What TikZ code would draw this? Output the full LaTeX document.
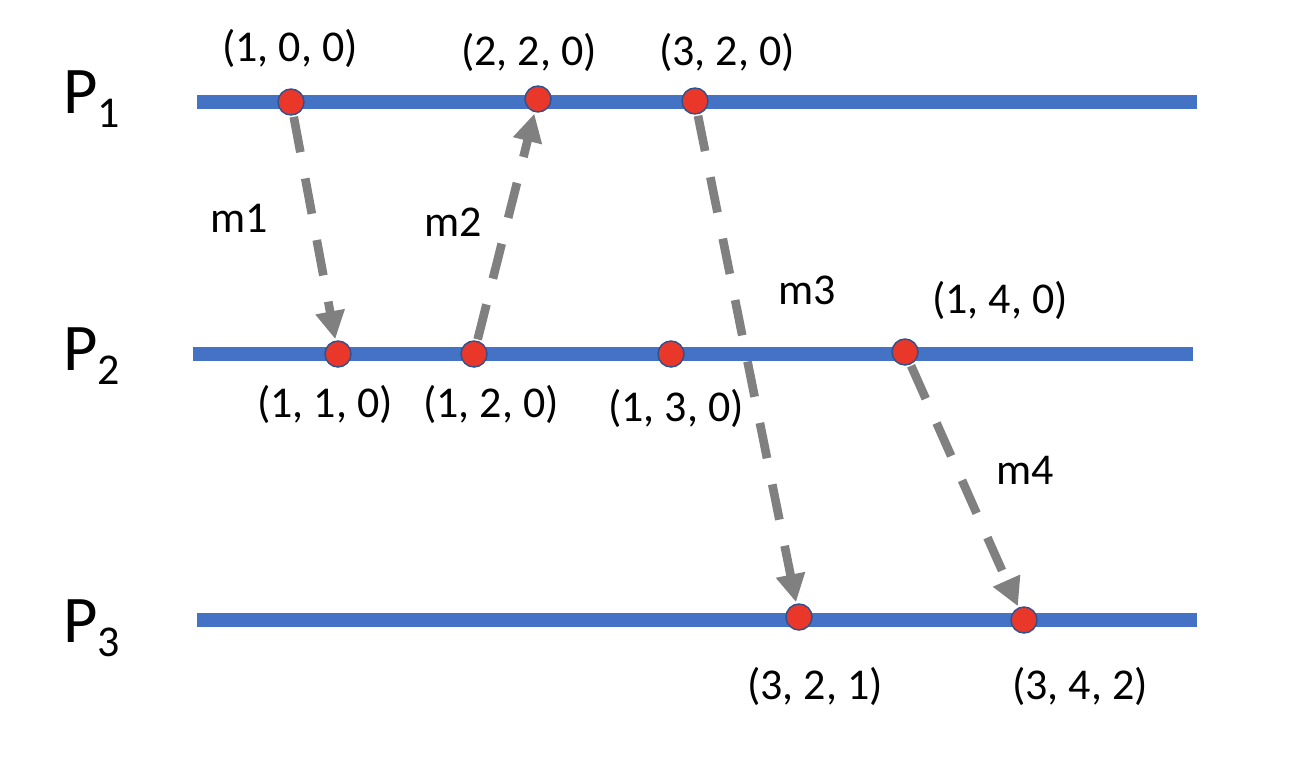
\documentclass[tikz,border=0pt]{standalone}
\usepackage{fontspec}
\setmainfont{Carlito}
\usetikzlibrary{arrows.meta}
\definecolor{lineblue}{RGB}{68,114,196}
\definecolor{dotred}{RGB}{233,55,42}
\definecolor{dotedge}{RGB}{47,82,143}
\definecolor{msggray}{RGB}{128,128,128}
\tikzset{
  procline/.style={draw=lineblue, line width=10.5pt},
  ev/.style={circle, fill=dotred, draw=dotedge, line width=1.1pt, minimum size=19.5pt, inner sep=0pt},
  msg/.style={draw=msggray, line width=6.5pt, dash pattern=on 27pt off 20pt,
    -{Triangle[length=21pt,width=21pt]}, shorten <=1pt, shorten >=1pt},
  lbl/.style={font=\fontsize{33}{38}\selectfont, inner sep=0pt},
  plbl/.style={font=\fontsize{50}{56}\selectfont, inner sep=0pt, anchor=base west},
}
\newcommand{\psub}[1]{{\fontsize{33}{38}\selectfont\raisebox{-11pt}{#1}}}
\begin{document}
\begin{tikzpicture}[x=0.75pt, y=-0.75pt]
\useasboundingbox (0,0) rectangle (1302,778);
% process lines
\coordinate (p1s) at (197,102); \coordinate (p1e) at (1197,102);
\coordinate (p2s) at (193,354); \coordinate (p2e) at (1193,354);
\coordinate (p3s) at (197,620); \coordinate (p3e) at (1197,620);
\draw[procline] (p1s) -- (p1e);
\draw[procline] (p2s) -- (p2e);
\draw[procline] (p3s) -- (p3e);
% process labels
\node[plbl] (P1) at (63,113) {P\psub{1}};
\node[plbl] (P2) at (63,370) {P\psub{2}};
\node[plbl] (P3) at (63,642) {P\psub{3}};
% events
\node[ev] (a1) at (291,102) {};
\node[ev] (a2) at (538,99) {};
\node[ev] (a3) at (695,101) {};
\node[ev] (b1) at (338,354) {};
\node[ev] (b2) at (474,354) {};
\node[ev] (b3) at (671,354) {};
\node[ev] (b4) at (905,352) {};
\node[ev] (c1) at (799,617) {};
\node[ev] (c2) at (1024,620) {};
% messages
\draw[msg] (a1) -- (b1);
\draw[msg] (b2) -- (a2);
\draw[msg] (a3) -- (c1);
\draw[msg] (b4) -- (c2);
% labels
\node[lbl] (la1) at (290,48) {(1, 0, 0)};
\node[lbl] (la2) at (529,52) {(2, 2, 0)};
\node[lbl] (la3) at (727,52) {(3, 2, 0)};
\node[lbl] (lb1) at (325,404) {(1, 1, 0)};
\node[lbl] (lb2) at (491,404) {(1, 2, 0)};
\node[lbl] (lb3) at (676,408) {(1, 3, 0)};
\node[lbl] (lb4) at (1000,300) {(1, 4, 0)};
\node[lbl] (lc1) at (815,686) {(3, 2, 1)};
\node[lbl] (lc2) at (1080,686) {(3, 4, 2)};
\node[lbl] (m1) at (239,218) {m1};
\node[lbl] (m2) at (453,222) {m2};
\node[lbl] (m3) at (807,290) {m3};
\node[lbl] (m4) at (1025,470) {m4};
\end{tikzpicture}
\end{document}
